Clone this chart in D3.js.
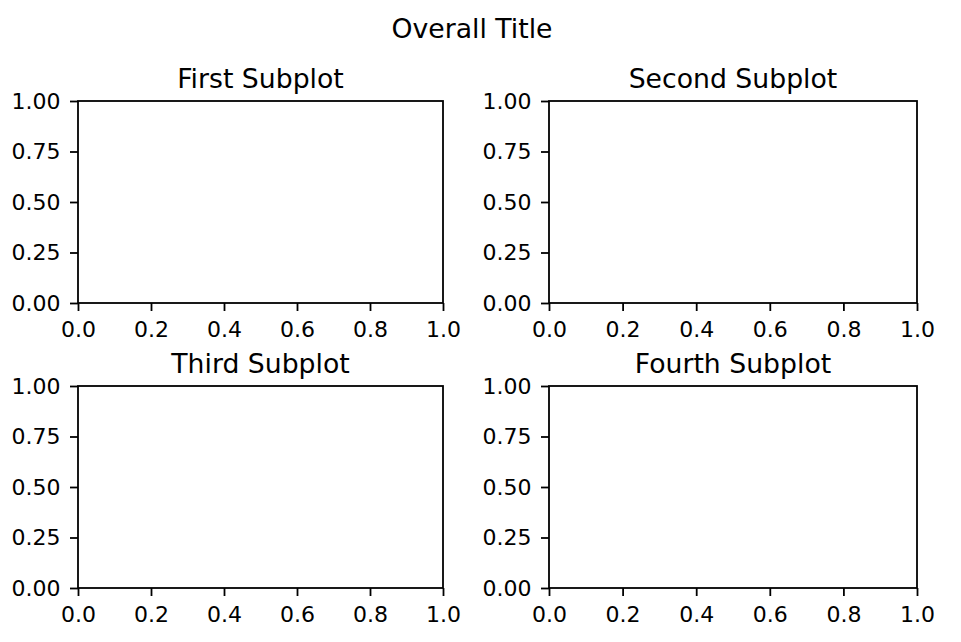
<!DOCTYPE html>
<html lang="en">
<head>
  <meta charset="utf-8">
  <title>Overall Title</title>
  <script src="https://d3js.org/d3.v7.min.js"></script>
  <style>
    html, body { margin:0; padding:0; background:#fff; }
    svg { display:block; font-family:"DejaVu Sans", sans-serif; }
    .tick text { fill:#000; }
  </style>
</head>
<body>
  <div id="chart"></div>
  <script>
    // ─── Data ────────────────────────────────────────────────────────────────
    const SUPTITLE = "Overall Title";
    const subplotTitles = ["First Subplot", "Second Subplot", "Third Subplot", "Fourth Subplot"];
    const xDomain = [0, 1];
    const yDomain = [0, 1];
    const xTicks = [0.0, 0.2, 0.4, 0.6, 0.8, 1.0];
    const yTicks = [0.00, 0.25, 0.50, 0.75, 1.00];
    // ───────────────────────────────────────────────────────────────────────────

    const W = 961, H = 642;
    const colLeft  = [78, 549];
    const colWidth = [365, 368];
    const rowTop   = [101, 386];
    const axH = 202;

    const svg = d3.select("#chart").append("svg")
      .attr("width", W).attr("height", H);

    svg.append("text")
      .attr("x", 472).attr("y", 38)
      .attr("text-anchor", "middle")
      .style("font-size", "26.7px")
      .text(SUPTITLE);

    subplotTitles.forEach((title, i) => {
      const col = i % 2, row = Math.floor(i / 2);
      const axW = colWidth[col];
      const g = svg.append("g")
        .attr("transform", `translate(${colLeft[col]},${rowTop[row]})`);

      const x = d3.scaleLinear().domain(xDomain).range([0, axW]);
      const y = d3.scaleLinear().domain(yDomain).range([axH, 0]);

      // ticks
      const xa = g.append("g")
        .attr("transform", `translate(0,${axH})`)
        .call(d3.axisBottom(x).tickValues(xTicks).tickFormat(d3.format(".1f"))
          .tickSize(8).tickPadding(10).tickSizeOuter(0));
      const ya = g.append("g")
        .call(d3.axisLeft(y).tickValues(yTicks).tickFormat(d3.format(".2f"))
          .tickSize(8).tickPadding(9.5).tickSizeOuter(0));

      [xa, ya].forEach(a => {
        a.attr("font-family", null).attr("font-size", null);
        a.select(".domain").remove();
        a.selectAll(".tick line").attr("stroke", "#000").attr("stroke-width", 1.8);
        a.selectAll(".tick text").style("font-size", "22px");
      });

      // spines
      g.append("rect")
        .attr("x", 0).attr("y", 0)
        .attr("width", axW).attr("height", axH)
        .attr("fill", "none")
        .attr("stroke", "#000")
        .attr("stroke-width", 1.8);

      // title
      g.append("text")
        .attr("x", axW / 2).attr("y", -13)
        .attr("text-anchor", "middle")
        .style("font-size", "26.7px")
        .text(title);
    });
  </script>
</body>
</html>
